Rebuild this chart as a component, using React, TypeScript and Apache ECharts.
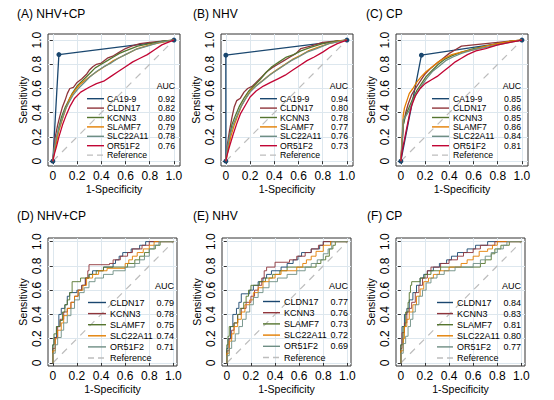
import { useEffect, useRef } from "react";
import * as echarts from "echarts";

type Pt = [number, number];

// ---------- text / categories ----------
const PANEL_TITLES = ["(A) NHV+CP", "(B) NHV", "(C) CP", "(D) NHV+CP", "(E) NHV", "(F) CP"];
const TOP_MARKERS = ["CA19-9", "CLDN17", "KCNN3", "SLAMF7", "SLC22A11", "OR51F2"];
const BOTTOM_MARKERS = ["CLDN17", "KCNN3", "SLAMF7", "SLC22A11", "OR51F2"];
const REF_LABEL = "Reference";
const AUC_HEADER = "AUC";
const X_NAME = "1-Specificity";
const Y_NAME = "Sensitivity";
const TICKS = [0, 0.2, 0.4, 0.6, 0.8, 1];

// ---------- AUC values ----------
const AUC_A = ["0.92", "0.82", "0.80", "0.79", "0.78", "0.76"];
const AUC_B = ["0.94", "0.80", "0.78", "0.77", "0.76", "0.73"];
const AUC_C = ["0.85", "0.86", "0.85", "0.86", "0.84", "0.81"];
const AUC_D = ["0.79", "0.78", "0.75", "0.74", "0.71"];
const AUC_E = ["0.77", "0.76", "0.73", "0.72", "0.69"];
const AUC_F = ["0.84", "0.83", "0.81", "0.80", "0.77"];

const REF_DIAG: Pt[] = [[0, 0], [1, 1]];

// ---------- Panel A (NHV+CP) ----------
const A_CA199: Pt[] = [[0, 0], [0.05, 0.88], [1, 1]];
const A_CLDN17: Pt[] = [[0, 0], [0.01, 0.1], [0.02, 0.2], [0.04, 0.3], [0.06, 0.38], [0.08, 0.45], [0.1, 0.5], [0.12, 0.56], [0.14, 0.6], [0.17, 0.61], [0.2, 0.65], [0.24, 0.68], [0.28, 0.72], [0.3, 0.75], [0.33, 0.78], [0.36, 0.8], [0.4, 0.81], [0.45, 0.85], [0.5, 0.87], [0.55, 0.9], [0.6, 0.93], [0.65, 0.95], [0.72, 0.97], [0.8, 0.98], [0.9, 0.99], [1, 1]];
const A_KCNN3: Pt[] = [[0, 0], [0.01, 0.08], [0.03, 0.18], [0.05, 0.28], [0.07, 0.36], [0.1, 0.44], [0.13, 0.5], [0.16, 0.56], [0.2, 0.62], [0.25, 0.67], [0.3, 0.72], [0.35, 0.77], [0.4, 0.8], [0.45, 0.83], [0.5, 0.86], [0.55, 0.89], [0.6, 0.91], [0.7, 0.95], [0.8, 0.97], [0.9, 0.99], [1, 1]];
const A_SLAMF7: Pt[] = [[0, 0], [0.01, 0.06], [0.03, 0.16], [0.05, 0.25], [0.08, 0.35], [0.11, 0.44], [0.14, 0.52], [0.18, 0.58], [0.22, 0.63], [0.27, 0.67], [0.32, 0.71], [0.38, 0.75], [0.44, 0.79], [0.5, 0.83], [0.56, 0.86], [0.62, 0.89], [0.7, 0.93], [0.8, 0.96], [0.9, 0.98], [1, 1]];
const A_SLC22A11: Pt[] = [[0, 0], [0.01, 0.1], [0.03, 0.2], [0.05, 0.27], [0.08, 0.36], [0.1, 0.42], [0.13, 0.48], [0.17, 0.55], [0.21, 0.6], [0.26, 0.65], [0.31, 0.7], [0.36, 0.74], [0.42, 0.78], [0.48, 0.81], [0.54, 0.85], [0.6, 0.88], [0.68, 0.92], [0.78, 0.95], [0.88, 0.98], [1, 1]];
const A_OR51F2: Pt[] = [[0, 0], [0.01, 0.05], [0.03, 0.12], [0.05, 0.2], [0.08, 0.3], [0.11, 0.38], [0.14, 0.45], [0.18, 0.52], [0.23, 0.57], [0.3, 0.61], [0.36, 0.64], [0.42, 0.66], [0.48, 0.7], [0.54, 0.74], [0.6, 0.78], [0.66, 0.82], [0.72, 0.85], [0.78, 0.88], [0.84, 0.92], [0.9, 0.96], [0.95, 0.98], [1, 1]];

// ---------- Panel B (NHV) ----------
const B_CA199: Pt[] = [[0, 0], [0, 0.875], [1, 1]];
const B_CLDN17: Pt[] = [[0, 0], [0.01, 0.12], [0.03, 0.25], [0.05, 0.36], [0.07, 0.45], [0.09, 0.5], [0.12, 0.52], [0.15, 0.57], [0.18, 0.6], [0.22, 0.62], [0.26, 0.66], [0.3, 0.7], [0.34, 0.74], [0.38, 0.77], [0.43, 0.8], [0.48, 0.83], [0.53, 0.86], [0.58, 0.89], [0.62, 0.93], [0.7, 0.95], [0.8, 0.98], [0.9, 0.99], [1, 1]];
const B_KCNN3: Pt[] = [[0, 0], [0.01, 0.08], [0.03, 0.2], [0.05, 0.3], [0.08, 0.38], [0.11, 0.45], [0.15, 0.52], [0.19, 0.58], [0.23, 0.62], [0.28, 0.67], [0.33, 0.73], [0.38, 0.78], [0.44, 0.82], [0.5, 0.86], [0.56, 0.88], [0.62, 0.91], [0.7, 0.94], [0.8, 0.97], [0.9, 0.99], [1, 1]];
const B_SLAMF7: Pt[] = [[0, 0], [0.02, 0.1], [0.04, 0.2], [0.07, 0.3], [0.1, 0.38], [0.13, 0.46], [0.17, 0.53], [0.21, 0.59], [0.26, 0.63], [0.31, 0.67], [0.37, 0.72], [0.43, 0.76], [0.49, 0.8], [0.55, 0.84], [0.61, 0.87], [0.68, 0.91], [0.76, 0.94], [0.85, 0.97], [0.93, 0.99], [1, 1]];
const B_SLC22A11: Pt[] = [[0, 0], [0.01, 0.1], [0.03, 0.2], [0.06, 0.3], [0.09, 0.37], [0.12, 0.44], [0.16, 0.51], [0.2, 0.57], [0.25, 0.62], [0.3, 0.66], [0.36, 0.71], [0.42, 0.75], [0.48, 0.79], [0.54, 0.83], [0.6, 0.86], [0.67, 0.9], [0.75, 0.93], [0.85, 0.97], [1, 1]];
const B_OR51F2: Pt[] = [[0, 0], [0.01, 0.05], [0.03, 0.12], [0.06, 0.22], [0.09, 0.31], [0.12, 0.39], [0.16, 0.46], [0.2, 0.53], [0.25, 0.58], [0.31, 0.62], [0.37, 0.65], [0.43, 0.68], [0.49, 0.71], [0.55, 0.75], [0.61, 0.79], [0.67, 0.83], [0.73, 0.86], [0.8, 0.9], [0.86, 0.94], [0.92, 0.97], [1, 1]];

// ---------- Panel C (CP) ----------
const C_CA199: Pt[] = [[0, 0], [0.17, 0.875], [1, 1]];
const C_CLDN17: Pt[] = [[0, 0], [0.01, 0.12], [0.02, 0.3], [0.04, 0.4], [0.06, 0.47], [0.09, 0.55], [0.12, 0.6], [0.16, 0.66], [0.2, 0.72], [0.25, 0.77], [0.3, 0.81], [0.35, 0.85], [0.4, 0.89], [0.45, 0.92], [0.5, 0.95], [0.6, 0.96], [0.7, 0.97], [0.8, 0.98], [0.9, 0.99], [1, 1]];
const C_KCNN3: Pt[] = [[0, 0], [0.01, 0.15], [0.02, 0.3], [0.04, 0.38], [0.07, 0.45], [0.1, 0.52], [0.13, 0.58], [0.17, 0.64], [0.21, 0.7], [0.26, 0.75], [0.31, 0.8], [0.36, 0.84], [0.42, 0.87], [0.5, 0.9], [0.6, 0.93], [0.7, 0.95], [0.8, 0.97], [0.9, 0.99], [1, 1]];
const C_SLAMF7: Pt[] = [[0, 0], [0.01, 0.2], [0.02, 0.38], [0.03, 0.44], [0.05, 0.5], [0.07, 0.56], [0.1, 0.6], [0.13, 0.65], [0.17, 0.7], [0.21, 0.74], [0.26, 0.78], [0.31, 0.82], [0.36, 0.85], [0.42, 0.88], [0.5, 0.9], [0.6, 0.92], [0.7, 0.95], [0.8, 0.97], [0.9, 0.99], [1, 1]];
const C_SLC22A11: Pt[] = [[0, 0], [0.01, 0.15], [0.02, 0.34], [0.04, 0.37], [0.07, 0.42], [0.1, 0.5], [0.13, 0.56], [0.17, 0.62], [0.21, 0.68], [0.26, 0.74], [0.31, 0.78], [0.37, 0.83], [0.43, 0.86], [0.5, 0.89], [0.6, 0.92], [0.7, 0.94], [0.8, 0.96], [0.9, 0.98], [1, 1]];
const C_OR51F2: Pt[] = [[0, 0], [0.01, 0.08], [0.03, 0.18], [0.05, 0.28], [0.07, 0.38], [0.09, 0.46], [0.12, 0.54], [0.16, 0.6], [0.2, 0.64], [0.25, 0.67], [0.3, 0.7], [0.35, 0.74], [0.4, 0.78], [0.45, 0.82], [0.5, 0.85], [0.55, 0.88], [0.62, 0.91], [0.7, 0.93], [0.8, 0.96], [0.9, 0.98], [1, 1]];

// ---------- Panel D (NHV+CP, step curves: each point = FPR where sensitivity rises, new sensitivity) ----------
const D_CLDN17: Pt[] = [[0, 0], [0, 0.15], [0.01, 0.21], [0.03, 0.3], [0.05, 0.4], [0.07, 0.45], [0.1, 0.48], [0.12, 0.55], [0.14, 0.58], [0.2, 0.6], [0.24, 0.64], [0.27, 0.7], [0.3, 0.73], [0.33, 0.76], [0.42, 0.79], [0.5, 0.82], [0.52, 0.85], [0.55, 0.88], [0.58, 0.91], [0.65, 0.94], [0.72, 0.97], [0.77, 1], [1, 1]];
const D_KCNN3: Pt[] = [[0, 0], [0, 0.12], [0.02, 0.21], [0.04, 0.3], [0.06, 0.36], [0.09, 0.42], [0.12, 0.45], [0.15, 0.5], [0.18, 0.55], [0.21, 0.6], [0.24, 0.64], [0.27, 0.7], [0.29, 0.76], [0.3, 0.81], [0.47, 0.82], [0.5, 0.85], [0.56, 0.88], [0.62, 0.91], [0.66, 0.94], [0.74, 0.97], [0.8, 1], [1, 1]];
const D_SLAMF7: Pt[] = [[0, 0], [0, 0.15], [0.01, 0.24], [0.03, 0.3], [0.06, 0.35], [0.08, 0.42], [0.1, 0.48], [0.12, 0.52], [0.14, 0.58], [0.16, 0.67], [0.23, 0.7], [0.3, 0.73], [0.36, 0.76], [0.42, 0.79], [0.62, 0.82], [0.68, 0.85], [0.72, 0.88], [0.76, 0.91], [0.8, 0.94], [0.85, 0.97], [0.89, 1], [1, 1]];
const D_SLC22A11: Pt[] = [[0, 0], [0, 0.1], [0.02, 0.2], [0.04, 0.27], [0.07, 0.33], [0.09, 0.39], [0.12, 0.45], [0.15, 0.5], [0.18, 0.55], [0.21, 0.6], [0.25, 0.64], [0.28, 0.7], [0.33, 0.73], [0.38, 0.76], [0.45, 0.78], [0.6, 0.82], [0.63, 0.85], [0.66, 0.88], [0.7, 0.91], [0.75, 0.94], [0.8, 0.97], [0.84, 1], [1, 1]];
const D_OR51F2: Pt[] = [[0, 0], [0, 0.08], [0.02, 0.15], [0.04, 0.21], [0.07, 0.27], [0.09, 0.33], [0.12, 0.39], [0.15, 0.45], [0.18, 0.52], [0.22, 0.58], [0.26, 0.62], [0.3, 0.67], [0.35, 0.7], [0.42, 0.73], [0.5, 0.76], [0.6, 0.79], [0.68, 0.82], [0.72, 0.85], [0.76, 0.88], [0.8, 0.94], [0.84, 0.97], [0.88, 1], [1, 1]];

// ---------- Panel E (NHV) ----------
const E_CLDN17: Pt[] = [[0, 0], [0, 0.12], [0.01, 0.2], [0.03, 0.3], [0.05, 0.4], [0.08, 0.45], [0.1, 0.5], [0.12, 0.57], [0.19, 0.6], [0.22, 0.64], [0.26, 0.67], [0.3, 0.7], [0.33, 0.73], [0.37, 0.76], [0.45, 0.79], [0.5, 0.82], [0.55, 0.85], [0.59, 0.88], [0.62, 0.91], [0.7, 0.94], [0.77, 0.97], [0.8, 1], [1, 1]];
const E_KCNN3: Pt[] = [[0, 0], [0, 0.1], [0.02, 0.2], [0.04, 0.27], [0.06, 0.33], [0.09, 0.4], [0.12, 0.45], [0.16, 0.5], [0.2, 0.55], [0.23, 0.6], [0.26, 0.64], [0.29, 0.7], [0.31, 0.76], [0.33, 0.79], [0.4, 0.83], [0.52, 0.85], [0.58, 0.88], [0.65, 0.91], [0.7, 0.94], [0.76, 0.97], [0.8, 1], [1, 1]];
const E_SLAMF7: Pt[] = [[0, 0], [0, 0.15], [0.01, 0.22], [0.02, 0.3], [0.06, 0.33], [0.09, 0.4], [0.11, 0.45], [0.14, 0.5], [0.16, 0.55], [0.18, 0.6], [0.2, 0.64], [0.27, 0.67], [0.32, 0.7], [0.38, 0.73], [0.44, 0.76], [0.5, 0.79], [0.74, 0.82], [0.78, 0.85], [0.82, 0.88], [0.85, 0.94], [0.88, 0.97], [0.9, 1], [1, 1]];
const E_SLC22A11: Pt[] = [[0, 0], [0, 0.08], [0.02, 0.18], [0.04, 0.24], [0.06, 0.3], [0.09, 0.36], [0.12, 0.42], [0.15, 0.48], [0.19, 0.52], [0.22, 0.58], [0.26, 0.62], [0.3, 0.67], [0.35, 0.7], [0.4, 0.73], [0.45, 0.76], [0.58, 0.79], [0.63, 0.82], [0.66, 0.85], [0.7, 0.88], [0.74, 0.92], [0.8, 0.97], [0.86, 1], [1, 1]];
const E_OR51F2: Pt[] = [[0, 0], [0, 0.06], [0.02, 0.12], [0.04, 0.18], [0.07, 0.24], [0.1, 0.3], [0.13, 0.36], [0.16, 0.42], [0.19, 0.48], [0.22, 0.54], [0.26, 0.58], [0.3, 0.62], [0.35, 0.67], [0.42, 0.7], [0.5, 0.73], [0.58, 0.76], [0.65, 0.79], [0.7, 0.82], [0.75, 0.85], [0.8, 0.9], [0.84, 0.94], [0.87, 1], [1, 1]];

// ---------- Panel F (CP) ----------
const F_CLDN17: Pt[] = [[0, 0], [0, 0.15], [0.01, 0.3], [0.03, 0.4], [0.05, 0.45], [0.07, 0.52], [0.1, 0.58], [0.13, 0.64], [0.16, 0.7], [0.19, 0.73], [0.22, 0.76], [0.27, 0.79], [0.32, 0.82], [0.38, 0.85], [0.42, 0.88], [0.47, 0.91], [0.55, 0.94], [0.62, 0.97], [0.72, 1], [1, 1]];
const F_KCNN3: Pt[] = [[0, 0], [0, 0.12], [0.01, 0.25], [0.03, 0.33], [0.05, 0.42], [0.07, 0.45], [0.09, 0.5], [0.12, 0.58], [0.15, 0.64], [0.18, 0.7], [0.22, 0.76], [0.25, 0.79], [0.33, 0.82], [0.4, 0.85], [0.47, 0.88], [0.52, 0.91], [0.6, 0.94], [0.66, 0.97], [0.78, 1], [1, 1]];
const F_SLAMF7: Pt[] = [[0, 0], [0, 0.15], [0.02, 0.3], [0.04, 0.42], [0.06, 0.5], [0.07, 0.58], [0.08, 0.64], [0.09, 0.67], [0.16, 0.7], [0.2, 0.73], [0.25, 0.76], [0.33, 0.79], [0.66, 0.82], [0.7, 0.85], [0.75, 0.9], [0.78, 0.94], [0.83, 0.97], [0.9, 1], [1, 1]];
const F_SLC22A11: Pt[] = [[0, 0], [0, 0.1], [0.02, 0.2], [0.03, 0.3], [0.05, 0.36], [0.07, 0.42], [0.1, 0.48], [0.13, 0.55], [0.16, 0.61], [0.19, 0.67], [0.23, 0.7], [0.27, 0.73], [0.32, 0.76], [0.4, 0.79], [0.5, 0.82], [0.55, 0.85], [0.6, 0.88], [0.65, 0.92], [0.72, 0.94], [0.76, 0.97], [0.8, 1], [1, 1]];
const F_OR51F2: Pt[] = [[0, 0], [0, 0.08], [0.02, 0.16], [0.04, 0.22], [0.06, 0.3], [0.08, 0.36], [0.1, 0.42], [0.12, 0.48], [0.15, 0.55], [0.18, 0.6], [0.21, 0.66], [0.25, 0.7], [0.3, 0.73], [0.36, 0.76], [0.45, 0.79], [0.6, 0.82], [0.66, 0.85], [0.7, 0.88], [0.75, 0.91], [0.8, 0.94], [0.85, 0.97], [0.88, 1], [1, 1]];

// ---------- styles ----------
const FONT = "'Liberation Sans', Arial, Helvetica, sans-serif";
const TOP_COLORS = ["#1a476f", "#90353b", "#55752f", "#e37e00", "#6e8e84", "#c10534"];
const BOTTOM_COLORS = ["#1a476f", "#90353b", "#55752f", "#e37e00", "#6e8e84"];
const REF_COLOR = "#bdbdbd";
const GRID_COLOR = "#dde7ee";
const FRAME_COLOR = "#333";
const TEXT_COLOR = "#000";
const LEGEND_Z = 100;

interface Layout {
  left: number; top: number; width: number; height: number;
  xr: [number, number]; yr: [number, number];
  titleX: number; titleY: number;
  lx1: number; lx2: number; tx: number; vr: number;
  headY: number; rowY: number; gap: number; font: number;
}

const LAYOUTS: Layout[] = [
  { left: 48, top: 34, width: 132, height: 132, xr: [-0.04, 1.05], yr: [-0.04, 1.05], titleX: 17, titleY: 14, lx1: 87, lx2: 104, tx: 107, vr: 175, headY: 86, rowY: 98.7, gap: 9.4, font: 8.7 },
  { left: 221, top: 34, width: 132, height: 132, xr: [-0.04, 1.05], yr: [-0.04, 1.05], titleX: 193, titleY: 14, lx1: 260, lx2: 277, tx: 280, vr: 348, headY: 86, rowY: 98.7, gap: 9.4, font: 8.7 },
  { left: 396, top: 34, width: 132, height: 132, xr: [-0.04, 1.05], yr: [-0.04, 1.05], titleX: 366, titleY: 14, lx1: 432, lx2: 449, tx: 453, vr: 521, headY: 86, rowY: 98.7, gap: 9.4, font: 8.7 },
  { left: 48, top: 238, width: 129, height: 128, xr: [-0.04, 1.03], yr: [-0.025, 1.03], titleX: 17, titleY: 215.5, lx1: 88, lx2: 106, tx: 110, vr: 174, headY: 286, rowY: 302.5, gap: 11.1, font: 9 },
  { left: 222, top: 238, width: 129, height: 128, xr: [-0.04, 1.03], yr: [-0.025, 1.03], titleX: 193, titleY: 215.5, lx1: 263, lx2: 280, tx: 284, vr: 348, headY: 286, rowY: 301.5, gap: 11.2, font: 9 },
  { left: 396, top: 238, width: 129, height: 128, xr: [-0.04, 1.03], yr: [-0.025, 1.03], titleX: 367, titleY: 215.5, lx1: 437, lx2: 453, tx: 457, vr: 521, headY: 286, rowY: 302.5, gap: 11.1, font: 9 },
];

const PANEL_DATA: { names: string[]; auc: string[]; curves: Pt[][]; colors: string[]; step: boolean }[] = [
  { names: TOP_MARKERS, auc: AUC_A, curves: [A_CA199, A_CLDN17, A_KCNN3, A_SLAMF7, A_SLC22A11, A_OR51F2], colors: TOP_COLORS, step: false },
  { names: TOP_MARKERS, auc: AUC_B, curves: [B_CA199, B_CLDN17, B_KCNN3, B_SLAMF7, B_SLC22A11, B_OR51F2], colors: TOP_COLORS, step: false },
  { names: TOP_MARKERS, auc: AUC_C, curves: [C_CA199, C_CLDN17, C_KCNN3, C_SLAMF7, C_SLC22A11, C_OR51F2], colors: TOP_COLORS, step: false },
  { names: BOTTOM_MARKERS, auc: AUC_D, curves: [D_CLDN17, D_KCNN3, D_SLAMF7, D_SLC22A11, D_OR51F2], colors: BOTTOM_COLORS, step: true },
  { names: BOTTOM_MARKERS, auc: AUC_E, curves: [E_CLDN17, E_KCNN3, E_SLAMF7, E_SLC22A11, E_OR51F2], colors: BOTTOM_COLORS, step: true },
  { names: BOTTOM_MARKERS, auc: AUC_F, curves: [F_CLDN17, F_KCNN3, F_SLAMF7, F_SLC22A11, F_OR51F2], colors: BOTTOM_COLORS, step: true },
];

const fmtTick = (v: number) => (Math.abs(v) < 1e-9 ? "0" : v.toFixed(1));

function buildOption() {
  const grid: any[] = [];
  const xAxis: any[] = [];
  const yAxis: any[] = [];
  const series: any[] = [];
  const graphic: any[] = [];

  LAYOUTS.forEach((L, i) => {
    const P = PANEL_DATA[i];
    grid.push({
      left: L.left, top: L.top, width: L.width, height: L.height,
      show: true, borderColor: FRAME_COLOR, borderWidth: 1, backgroundColor: "#fff",
      containLabel: false,
    });
    const common = {
      gridIndex: i,
      type: "value",
      axisLine: { show: false },
      axisTick: { show: true, customValues: TICKS, length: 3, lineStyle: { color: FRAME_COLOR, width: 1 } },
      splitLine: { show: true, lineStyle: { color: GRID_COLOR, width: 1 } },
      nameLocation: "middle",
      nameTextStyle: { fontSize: 10.5, fontFamily: FONT, color: TEXT_COLOR },
    };
    xAxis.push({
      ...common,
      min: L.xr[0], max: L.xr[1],
      name: X_NAME, nameGap: 17,
      axisLabel: { customValues: TICKS, formatter: fmtTick, fontSize: 12, fontFamily: FONT, color: TEXT_COLOR, margin: 4 },
    });
    yAxis.push({
      ...common,
      min: L.yr[0], max: L.yr[1],
      name: Y_NAME, nameGap: 20,
      axisLabel: { customValues: TICKS, formatter: fmtTick, fontSize: 12, fontFamily: FONT, color: TEXT_COLOR, margin: 5, rotate: 90 },
    });

    // reference diagonal
    series.push({
      type: "line", xAxisIndex: i, yAxisIndex: i, data: REF_DIAG, symbol: "none", silent: true,
      lineStyle: { color: REF_COLOR, width: 1.2, type: [7, 6] }, z: 2,
    });
    P.curves.forEach((curve, j) => {
      const color = P.colors[j];
      const isCA = P.names[j] === "CA19-9";
      series.push({
        type: "line", name: P.names[j], xAxisIndex: i, yAxisIndex: i, data: curve,
        step: P.step ? "end" : false,
        symbol: isCA ? "circle" : "none", symbolSize: 5, showSymbol: isCA,
        itemStyle: { color },
        lineStyle: { color, width: P.step ? 1 : 1.3, opacity: P.step ? 0.9 : 1 },
        silent: true, z: 3 + j,
      });
    });

    // panel title
    graphic.push({
      type: "text", x: L.titleX, y: L.titleY, silent: true, z: LEGEND_Z,
      style: { text: PANEL_TITLES[i], fontSize: 12, fontFamily: FONT, fill: TEXT_COLOR, align: "left", verticalAlign: "middle" },
    });
    // legend header
    graphic.push({
      type: "text", x: L.vr, y: L.headY, silent: true, z: LEGEND_Z,
      style: { text: AUC_HEADER, fontSize: L.font, fontFamily: FONT, fill: TEXT_COLOR, align: "right", verticalAlign: "middle" },
    });
    const rows = [...P.names, REF_LABEL];
    rows.forEach((nm, j) => {
      const y = L.rowY + j * L.gap;
      const isRef = j === P.names.length;
      graphic.push({
        type: "line", silent: true, z: LEGEND_Z,
        shape: { x1: L.lx1, y1: y, x2: L.lx2, y2: y },
        style: { stroke: isRef ? REF_COLOR : P.colors[j], lineWidth: 1.4, lineDash: isRef ? [6, 4] : null },
      });
      graphic.push({
        type: "text", x: L.tx, y, silent: true, z: LEGEND_Z,
        style: { text: nm, fontSize: L.font, fontFamily: FONT, fill: TEXT_COLOR, align: "left", verticalAlign: "middle" },
      });
      if (!isRef) {
        graphic.push({
          type: "text", x: L.vr, y, silent: true, z: LEGEND_Z,
          style: { text: P.auc[j], fontSize: L.font, fontFamily: FONT, fill: TEXT_COLOR, align: "right", verticalAlign: "middle" },
        });
      }
    });
  });

  return {
    animation: false,
    backgroundColor: "#fff",
    textStyle: { fontFamily: FONT },
    grid, xAxis, yAxis, series, graphic,
  };
}

export default function App() {
  const ref = useRef<HTMLDivElement>(null);
  useEffect(() => {
    if (!ref.current) return;
    const chart = echarts.init(ref.current, undefined, { renderer: "svg" });
    chart.setOption(buildOption() as any);
    return () => chart.dispose();
  }, []);
  return (
    <div
      ref={ref}
      style={{ position: "fixed", left: 0, top: 0, width: 554, height: 400, background: "#fff" }}
    />
  );
}
